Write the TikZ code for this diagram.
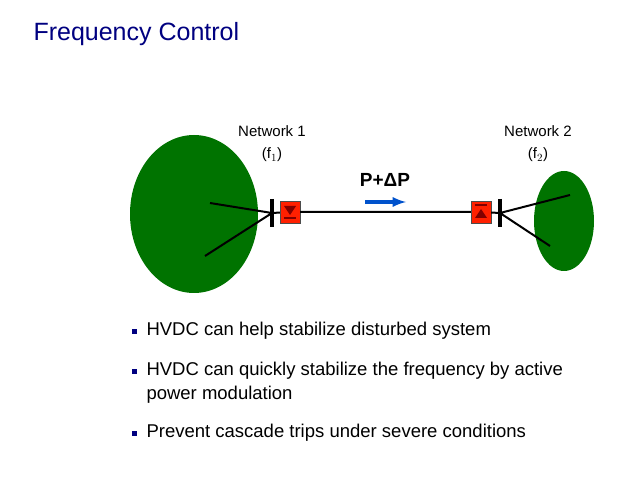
\documentclass[tikz,border=0pt]{standalone}
\usepackage{fontspec}
\setmainfont{Liberation Sans}
\begin{document}
\begin{tikzpicture}[x=1pt,y=-1pt,
  net/.style={fill=green!45!black,draw=none},
  conv/.style={draw=black!70,fill=red!75!orange,minimum width=20pt,minimum height=22pt,inner sep=0pt},
  lbl/.style={font=\fontsize{15}{18}\selectfont,align=center},
  bul/.style={anchor=west,font=\fontsize{18.5}{24}\selectfont,align=left}]
\useasboundingbox (0,0) rectangle (638,478);
\node[anchor=west,text=blue!50!black,font=\fontsize{25}{30}\selectfont] (title) at (30,34) {Frequency Control};
% networks
\fill[net] (194,214) ellipse (64 and 79);
\fill[net] (564,221) ellipse (30 and 50);
\node[lbl] (n1) at (272,131) {Network 1};
\node[lbl] (f1) at (272,155) {(f$_1$)};
\node[lbl] (n2) at (538,131) {Network 2};
\node[lbl] (f2) at (538,155) {(f$_2$)};
% converters
\coordinate (b1) at (272,213);
\coordinate (b2) at (500,213);
\node[conv] (c1) at (290,212) {};
\node[conv] (c2) at (481,212) {};
\draw[line width=4pt] (272,199) -- (272,227);
\draw[line width=4pt] (500,199) -- (500,227);
\draw[line width=2pt] (210,203) -- (b1) -- (205,256);
\draw[line width=2pt] (570,195) -- (b2) -- (550,246);
\draw[line width=2pt] (b1) -- (c1) -- (c2) -- (b2);
\fill[red!50!black] (284,206) -- (296,206) -- (290,215) -- cycle;
\draw[red!50!black,line width=1.5pt] (284,218) -- (296,218);
\fill[red!50!black] (475,218) -- (487,218) -- (481,209) -- cycle;
\draw[red!50!black,line width=1.5pt] (475,205) -- (487,205);
% power flow
\node[font=\bfseries\fontsize{19}{22}\selectfont] (p) at (385,180) {P+ΔP};
\coordinate (a1) at (365,202);
\coordinate (a2) at (406,202);
\draw[-latex,line width=3.5pt,blue!60!cyan!80!black] (a1) -- (a2);
% bullets
\node[bul] (t1) at (143,331) {HVDC can help stabilize disturbed system};
\node[bul] (t2) at (143,383) {HVDC can quickly stabilize the frequency by active\\power modulation};
\node[bul] (t3) at (143,433) {Prevent cascade trips under severe conditions};
\foreach \yy in {332,372,434} \fill[blue!50!black] (132,\yy-2.5) rectangle ++(5,5);
\end{tikzpicture}
\end{document}
